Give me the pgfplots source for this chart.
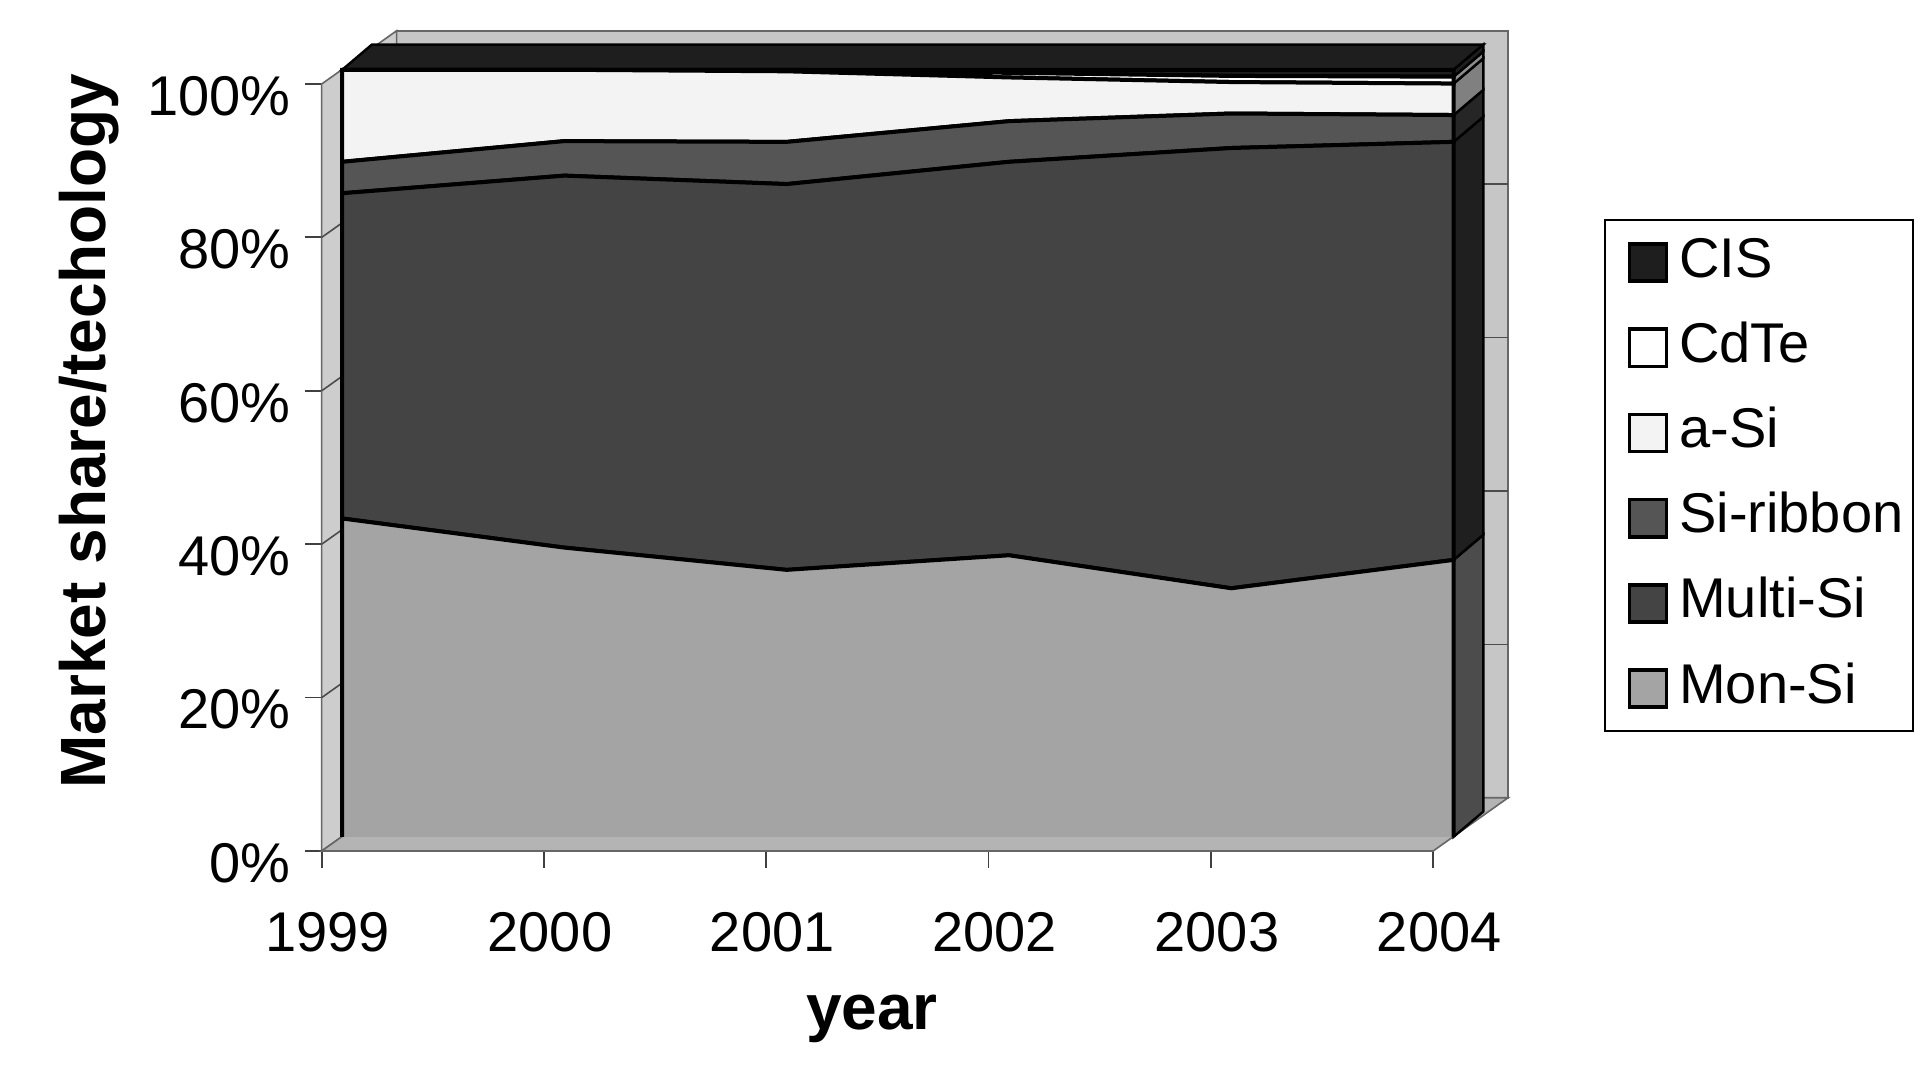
\documentclass[border=0pt]{standalone}
\usepackage{pgfplots}
\pgfplotsset{compat=1.18}
\usepackage{fontspec}
\setmainfont{Liberation Sans}
\definecolor{monsi}{HTML}{A4A4A4}
\definecolor{multisi}{HTML}{444444}
\definecolor{siribbon}{HTML}{555555}
\definecolor{asi}{HTML}{F3F3F3}
\definecolor{cdte}{HTML}{FFFFFF}
\definecolor{cis}{HTML}{1E1E1E}
\definecolor{wall}{HTML}{C6C6C6}
\definecolor{lwall}{HTML}{CDCDCD}
\definecolor{floorc}{HTML}{B4B4B4}
\begin{document}
\begin{tikzpicture}
\useasboundingbox (-80.425pt,-57pt) rectangle (402.325pt,212.75pt);
% ---- walls, floor, ticks (front axis plane) ----
\begin{axis}[
  at={(0pt,0pt)}, anchor=south west,
  scale only axis, width=277.875pt, height=191.75pt,
  xmin=1999, xmax=2004, ymin=0, ymax=100,
  axis lines=left, axis line style={-, black!75, line width=0.45pt},
  clip=false,
  xtick={1999,2000,2001,2002,2003,2004},
  xticklabels={1999,2000,2001,2002,2003,2004},
  ytick={0,20,40,60,80,100},
  yticklabels={0\%,20\%,40\%,60\%,80\%,100\%},
  tick align=outside, major tick length=4.25pt,
  tick style={black!75, line width=0.45pt},
  ticklabel style={font=\fontsize{14}{16}\selectfont},
  xticklabel style={yshift=-7.6pt, xshift=1.5pt},
  yticklabel style={yshift=-3pt},
  xlabel={year}, ylabel={Market share/techology},
  xlabel style={font=\bfseries\fontsize{16}{18}\selectfont, at={(axis description cs:0.4951,-0.219)}, anchor=center},
  ylabel style={font=\bfseries\fontsize{16}{18}\selectfont, at={(axis description cs:-0.2094,0.5476)}, anchor=center},
]
% back wall
\addplot[fill=wall, draw=black!60, line width=0.4pt, forget plot] coordinates {(1999.337,6.94) (2004.337,6.94) (2004.337,106.94) (1999.337,106.94)} -- cycle;
% back wall gridlines
\addplot[draw=black!70, line width=0.4pt, forget plot] coordinates {(1999.337,26.94) (2004.337,26.94)};
\addplot[draw=black!70, line width=0.4pt, forget plot] coordinates {(1999.337,46.94) (2004.337,46.94)};
\addplot[draw=black!70, line width=0.4pt, forget plot] coordinates {(1999.337,66.94) (2004.337,66.94)};
\addplot[draw=black!70, line width=0.4pt, forget plot] coordinates {(1999.337,86.94) (2004.337,86.94)};
% left wall
\addplot[fill=lwall, draw=black!60, line width=0.4pt, forget plot] coordinates {(1999,0) (1999,100) (1999.337,106.94) (1999.337,6.94)} -- cycle;
\addplot[draw=black!70, line width=0.4pt, forget plot] coordinates {(1999,20) (1999.337,26.94)};
\addplot[draw=black!70, line width=0.4pt, forget plot] coordinates {(1999,40) (1999.337,46.94)};
\addplot[draw=black!70, line width=0.4pt, forget plot] coordinates {(1999,60) (1999.337,66.94)};
\addplot[draw=black!70, line width=0.4pt, forget plot] coordinates {(1999,80) (1999.337,86.94)};
% floor
\addplot[fill=floorc, draw=black!60, line width=0.4pt, forget plot] coordinates {(1999,0) (2004,0) (2004.337,6.94) (1999.337,6.94)} -- cycle;
% slab top surface
\addplot[fill=cis, draw=black, line width=0.6pt, forget plot] coordinates {(1999.092,101.85) (2004.092,101.85) (2004.2255,105.13) (1999.2255,105.13)} -- cycle;
% slab right face (2004 values)
\addplot[fill=black!70, draw=black, line width=0.6pt, forget plot] coordinates {(2004.092,1.85) (2004.092,37.95) (2004.2255,41.23) (2004.2255,5.13)} -- cycle;
\addplot[fill=black!88, draw=black, line width=0.6pt, forget plot] coordinates {(2004.092,37.95) (2004.092,92.45) (2004.2255,95.73) (2004.2255,41.23)} -- cycle;
\addplot[fill=black!85, draw=black, line width=0.6pt, forget plot] coordinates {(2004.092,92.45) (2004.092,95.95) (2004.2255,99.23) (2004.2255,95.73)} -- cycle;
\addplot[fill=black!50, draw=black, line width=0.6pt, forget plot] coordinates {(2004.092,95.95) (2004.092,100.05) (2004.2255,103.33) (2004.2255,99.23)} -- cycle;
\addplot[fill=black!45, draw=black, line width=0.6pt, forget plot] coordinates {(2004.092,100.05) (2004.092,100.95) (2004.2255,104.23) (2004.2255,103.33)} -- cycle;
\addplot[fill=cis, draw=black, line width=0.6pt, forget plot] coordinates {(2004.092,100.95) (2004.092,101.85) (2004.2255,105.13) (2004.2255,104.23)} -- cycle;
\end{axis}
% ---- data (front face of the area slab) ----
\begin{axis}[
  at={(5.11pt,3.55pt)}, anchor=south west,
  scale only axis, width=277.875pt, height=191.75pt,
  xmin=1999, xmax=2004, ymin=0, ymax=100,
  hide axis, clip=false,
  stack plots=y, no markers,
  reverse legend,
  legend cell align=left,
  legend image code/.code={\path[draw=none, fill=none] (0pt,0pt) rectangle (16pt,0.1pt); \draw[#1, line width=0.9pt] (4.5pt,-4.65pt) rectangle (13.8pt,4.65pt);},
  legend style={at={(axis description cs:1.1356,0.8055)}, anchor=north west,
    draw=black, line width=0.5pt, fill=white,
    font=\fontsize{14}{16}\selectfont,
    row sep=8pt, column sep=0pt, inner xsep=1.5pt, inner ysep=4pt,
    nodes={inner xsep=1pt, inner ysep=0pt, text height=10.3pt, text depth=3pt}},
]
\addplot[fill=monsi, draw=none] coordinates {(1999,41.5) (2000,37.7) (2001,34.8) (2002,36.7) (2003,32.4) (2004,36.1)} \closedcycle;
\addplot[fill=multisi, draw=black, line width=1pt] coordinates {(1999,42.4) (2000,48.5) (2001,50.3) (2002,51.3) (2003,57.4) (2004,54.5)} \closedcycle;
\addplot[fill=siribbon, draw=black, line width=1pt] coordinates {(1999,4.1) (2000,4.5) (2001,5.5) (2002,5.3) (2003,4.5) (2004,3.5)} \closedcycle;
\addplot[fill=asi, draw=black, line width=1pt] coordinates {(1999,12.0) (2000,9.3) (2001,9.2) (2002,5.7) (2003,4.1) (2004,4.1)} \closedcycle;
\addplot[fill=cdte, draw=black, line width=1pt] coordinates {(1999,0) (2000,0) (2001,0.2) (2002,0.6) (2003,0.8) (2004,0.9)} \closedcycle;
\addplot[fill=cis, draw=black, line width=1pt] coordinates {(1999,0) (2000,0) (2001,0) (2002,0.4) (2003,0.8) (2004,0.9)} \closedcycle;
\legend{Mon-Si, Multi-Si, Si-ribbon, a-Si, CdTe, CIS}
\end{axis}
% ---- Mon-Si side edges (no bottom outline) ----
\begin{axis}[
  at={(5.11pt,3.55pt)}, anchor=south west,
  scale only axis, width=277.875pt, height=191.75pt,
  xmin=1999, xmax=2004, ymin=0, ymax=100,
  hide axis, clip=false,
]
\addplot[draw=black, line width=1pt, no markers, line join=round] coordinates {(1999,0) (1999,41.5) (2000,37.7) (2001,34.8) (2002,36.7) (2003,32.4) (2004,36.1) (2004,0)};
\end{axis}
\end{tikzpicture}
\end{document}
